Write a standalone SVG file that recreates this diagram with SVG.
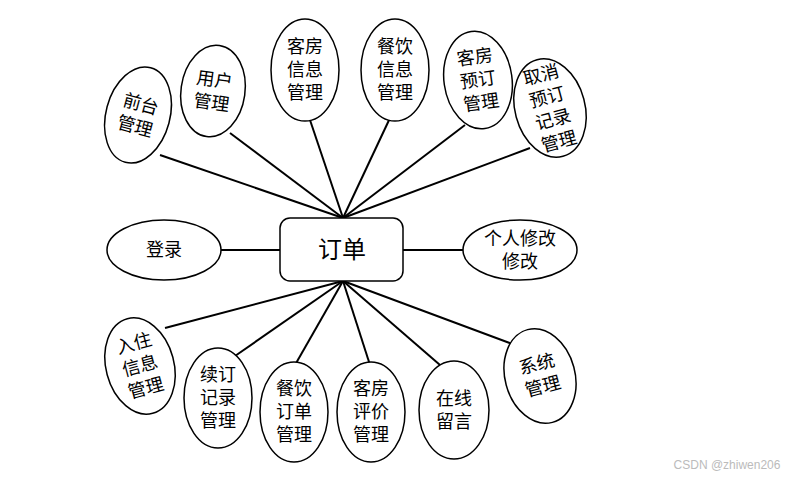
<svg xmlns="http://www.w3.org/2000/svg" width="799" height="477" viewBox="0 0 799 477">
<style>
.n ellipse{fill:#fff;stroke:#000;stroke-width:1.5}
text{font-family:"Liberation Serif","Noto Sans CJK SC",serif;font-size:18px;text-anchor:middle;fill:#000}
.c line{stroke:#000;stroke-width:2}
</style>
<rect width="799" height="477" fill="#fff"/>
<g class="c">
<line x1="343" y1="218" x2="160" y2="155"/>
<line x1="343" y1="218" x2="230" y2="133"/>
<line x1="343" y1="218" x2="310" y2="120"/>
<line x1="343" y1="218" x2="390" y2="118"/>
<line x1="343" y1="218" x2="465" y2="125"/>
<line x1="343" y1="218" x2="530" y2="148"/>
<line x1="220" y1="250" x2="280" y2="250"/>
<line x1="403" y1="250" x2="463" y2="250"/>
<line x1="343" y1="281" x2="165" y2="328"/>
<line x1="343" y1="281" x2="235" y2="356"/>
<line x1="343" y1="281" x2="295" y2="365"/>
<line x1="343" y1="281" x2="370" y2="365"/>
<line x1="343" y1="281" x2="440" y2="365"/>
<line x1="343" y1="281" x2="515" y2="345"/>
</g>
<g id="center"><rect x="280" y="218" width="123" height="63" rx="10" fill="#fff" stroke="#000" stroke-width="1.5"/><text x="342" y="258" style="font-size:24px">订单</text></g>
<g id="n1" class="n" transform="rotate(15 138 115)"><ellipse cx="138" cy="115" rx="32" ry="49"/><text x="138" y="110">前台</text><text x="138" y="133">管理</text></g>
<g id="n2" class="n" transform="rotate(8 213 91)"><ellipse cx="213" cy="91" rx="32" ry="46"/><text x="213" y="86">用户</text><text x="213" y="109">管理</text></g>
<g id="n3" class="n"><ellipse cx="305" cy="70" rx="34" ry="51"/><text x="305" y="53">客房</text><text x="305" y="76">信息</text><text x="305" y="99">管理</text></g>
<g id="n4" class="n"><ellipse cx="395" cy="70" rx="34" ry="51"/><text x="395" y="53">餐饮</text><text x="395" y="76">信息</text><text x="395" y="99">管理</text></g>
<g id="n5" class="n" transform="rotate(-8 478 80)"><ellipse cx="478" cy="80" rx="34" ry="49"/><text x="478" y="63">客房</text><text x="478" y="86">预订</text><text x="478" y="109">管理</text></g>
<g id="n6" class="n" transform="rotate(-15 550 108)"><ellipse cx="550" cy="108" rx="35" ry="50"/><text x="550" y="80">取消</text><text x="550" y="103">预订</text><text x="550" y="126">记录</text><text x="550" y="149">管理</text></g>
<g id="n7" class="n"><ellipse cx="164" cy="250" rx="57" ry="30"/><text x="164" y="256">登录</text></g>
<g id="n8" class="n"><ellipse cx="520" cy="250" rx="57" ry="30"/><text x="520" y="245">个人修改</text><text x="520" y="268">修改</text></g>
<g id="n9" class="n" transform="rotate(-15 140 366)"><ellipse cx="140" cy="366" rx="34" ry="49"/><text x="140" y="349">入住</text><text x="140" y="372">信息</text><text x="140" y="395">管理</text></g>
<g id="n10" class="n"><ellipse cx="218" cy="398" rx="34" ry="50"/><text x="218" y="381">续订</text><text x="218" y="404">记录</text><text x="218" y="427">管理</text></g>
<g id="n11" class="n"><ellipse cx="294" cy="412" rx="34" ry="50"/><text x="294" y="395">餐饮</text><text x="294" y="418">订单</text><text x="294" y="441">管理</text></g>
<g id="n12" class="n"><ellipse cx="371" cy="412" rx="34" ry="50"/><text x="371" y="395">客房</text><text x="371" y="418">评价</text><text x="371" y="441">管理</text></g>
<g id="n13" class="n"><ellipse cx="454" cy="410" rx="35" ry="49"/><text x="454" y="405">在线</text><text x="454" y="428">留言</text></g>
<g id="n14" class="n" transform="rotate(-15 540 376)"><ellipse cx="540" cy="376" rx="35" ry="48"/><text x="540" y="370">系统</text><text x="540" y="393">管理</text></g>
<text x="727" y="469" style="font-size:12px;fill:#bbb;font-family:'Liberation Sans',sans-serif">CSDN @zhiwen206</text>
</svg>
